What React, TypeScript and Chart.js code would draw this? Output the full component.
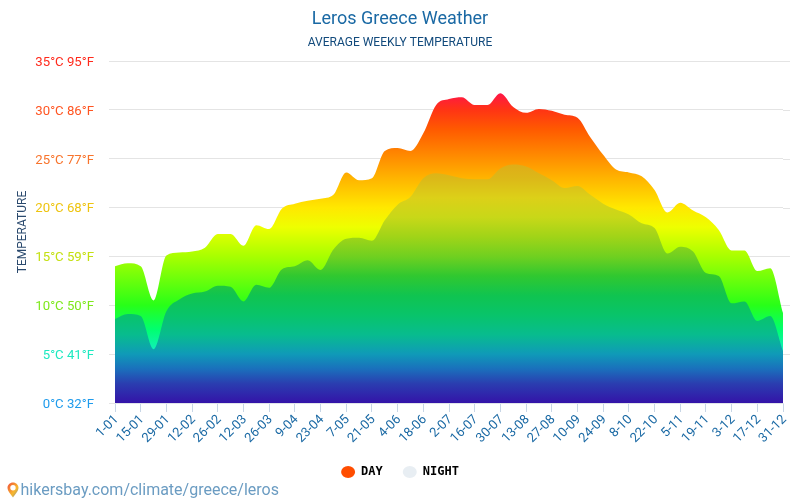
import React, { useEffect, useRef } from "react";
import { Chart, registerables } from "chart.js";

Chart.register(...registerables);

const weeks = [
  "1-01","8-01","15-01","22-01","29-01","5-02","12-02","19-02","26-02","5-03","12-03","19-03","26-03",
  "2-04","9-04","16-04","23-04","30-04","7-05","14-05","21-05","28-05","4-06","11-06","18-06","25-06",
  "2-07","9-07","16-07","23-07","30-07","6-08","13-08","20-08","27-08","3-09","10-09","17-09","24-09",
  "1-10","8-10","15-10","22-10","29-10","5-11","12-11","19-11","26-11","3-12","10-12","17-12","24-12","31-12",
];
const dayTemps = [
  14.0,14.3,14.0,10.5,15.1,15.4,15.5,15.9,17.3,17.3,16.1,18.2,17.8,
  19.9,20.4,20.7,20.9,21.3,23.6,22.8,23.0,25.8,26.1,25.8,27.6,30.5,
  31.1,31.3,30.5,30.5,31.7,30.3,29.7,30.1,29.9,29.5,29.2,27.2,25.4,
  23.9,23.6,23.2,21.8,19.5,20.5,19.7,19.0,17.7,15.6,15.6,13.5,13.8,9.2,
];
const nightTemps = [
  8.6,9.1,8.9,5.5,9.4,10.6,11.2,11.4,12.0,11.9,10.4,12.1,11.8,
  13.7,14.0,14.6,13.6,15.7,16.8,16.9,16.6,18.7,20.3,21.1,23.0,23.5,
  23.3,23.0,22.9,22.9,24.0,24.4,24.2,23.5,22.8,22.0,22.2,21.3,20.4,
  19.8,19.3,18.4,17.9,15.3,16.0,15.5,13.3,13.0,10.2,10.4,8.4,8.9,5.3,
];
const yTickLabels: Record<number, string> = {
  0: "0°C 32°F", 5: "5°C 41°F", 10: "10°C 50°F", 15: "15°C 59°F",
  20: "20°C 68°F", 25: "25°C 77°F", 30: "30°C 86°F", 35: "35°C 95°F",
};
const yTickColors: Record<number, string> = {
  0: "#1e9bec", 5: "#1de9c0", 10: "#7ee81c", 15: "#c4e012",
  20: "#eec410", 25: "#f8742c", 30: "#ff5522", 35: "#ff2a1c",
};
const dayStops: [number, string][] = [
  [0, "#3413a8"], [2, "#2a40b0"], [4, "#1a9cc4"], [5.5, "#10f0b8"], [7.5, "#00ff70"], [10, "#28ff18"],
  [15, "#a8ff00"], [18, "#eeff00"], [20, "#ffe800"], [23, "#ffb400"], [25, "#ff9000"],
  [28, "#ff5a00"], [30, "#ff3414"], [32, "#ff1050"],
];
const nightStops: [number, string][] = [
  [0, "#3413a8"], [2, "#2a3eb0"], [3.5, "#1a70bc"], [5, "#0f9ab8"], [7, "#08bc8e"], [9, "#08c46a"],
  [11, "#10c450"], [13, "#30c830"], [15, "#70d020"], [17, "#a0d418"], [19, "#c8d818"],
  [21, "#dcd018"], [23, "#dcb818"], [25, "#e0a818"],
];
const dayLegendColor = "#ff4d00";
const nightLegendColor = "#e8eef3";

function gradient(chart: any, stops: [number, string][]) {
  const { ctx, scales, chartArea } = chart;
  if (!chartArea) return "#000";
  const y = scales.y;
  const g = ctx.createLinearGradient(0, y.getPixelForValue(0), 0, y.getPixelForValue(35));
  stops.forEach(([v, c]) => g.addColorStop(v / 35, c));
  return g;
}

const gridExtend = {
  id: "gridExtend",
  beforeDatasetsDraw(chart: any) {
    const { ctx, scales, chartArea } = chart;
    ctx.save();
    ctx.strokeStyle = "#e4e4e4";
    ctx.lineWidth = 1;
    scales.y.ticks.forEach((t: any) => {
      if (t.value === 0) return;
      const p = Math.round(scales.y.getPixelForValue(t.value)) + 0.5;
      ctx.beginPath();
      ctx.moveTo(chartArea.right, p);
      ctx.lineTo(chartArea.right + 7, p);
      ctx.stroke();
    });
    ctx.restore();
  },
};

export default function App() {
  const ref = useRef<HTMLCanvasElement>(null);
  useEffect(() => {
    document.body.style.margin = "0";
    const chart = new Chart(ref.current!, {
      type: "line",
      plugins: [gridExtend],
      data: {
        labels: weeks,
        datasets: [
          {
            label: "DAY", data: dayTemps, order: 2, fill: "origin", borderWidth: 0, pointRadius: 0,
            cubicInterpolationMode: "monotone",
            backgroundColor: (c: any) => gradient(c.chart, dayStops),
          },
          {
            label: "NIGHT", data: nightTemps, order: 1, fill: "origin", borderWidth: 0, pointRadius: 0,
            cubicInterpolationMode: "monotone",
            backgroundColor: (c: any) => gradient(c.chart, nightStops),
          },
        ],
      },
      options: {
        responsive: false,
        animation: false,
        layout: { padding: { left: 0, right: 0, top: 0, bottom: 12 } },
        plugins: {
          title: {
            display: true, text: "Leros Greece Weather", color: "#1a69a4",
            font: { family: "Roboto", size: 18, weight: "normal" }, padding: { top: 9, bottom: 0 },
          },
          subtitle: {
            display: true, text: "AVERAGE WEEKLY TEMPERATURE", color: "#124a7c",
            font: { family: "Roboto", size: 12, weight: "normal" }, padding: { top: 5, bottom: 11 },
          },
          tooltip: { enabled: false },
          legend: {
            position: "bottom",
            labels: {
              usePointStyle: true, boxHeight: 8.5, pointStyleWidth: 14, padding: 20,
              color: "#3a3f52",
              font: { family: "DejaVu Sans Mono", size: 12, weight: "bold" },
              generateLabels: () => [
                { text: "DAY", fillStyle: dayLegendColor, strokeStyle: dayLegendColor, lineWidth: 0, pointStyle: "circle", datasetIndex: 0 },
                { text: "NIGHT", fillStyle: nightLegendColor, strokeStyle: nightLegendColor, lineWidth: 0, pointStyle: "circle", datasetIndex: 1 },
              ],
            },
          },
        },
        scales: {
          x: {
            type: "category",
            afterFit: (s: any) => { s.height = 43; },
            afterBuildTicks: (s: any) => { s.ticks = s.ticks.filter((_: any, i: number) => i % 2 === 0); },
            grid: { drawOnChartArea: false, drawTicks: true, tickLength: 9, tickColor: "#c8d6e6", color: "#c8d6e6" },
            border: { color: "#e0e4ea" },
            ticks: {
              autoSkip: false, minRotation: 45, maxRotation: 45, padding: 0, labelOffset: 1.5,
              color: "#1a69a4", font: { family: "Roboto", size: 13 },
            },
          },
          y: {
            min: 0, max: 35,
            afterFit: (s: any) => { s.width = 115; },
            title: {
              display: true, text: "TEMPERATURE", color: "#2b4a6e",
              font: { family: "Roboto", size: 12 }, padding: { top: 15.5, bottom: 0 },
            },
            grid: { color: "#e4e4e4", tickColor: "#e4e4e4", tickLength: 6 },
            border: { display: false },
            ticks: {
              stepSize: 5, padding: 15, labelOffset: 1.5,
              font: { family: "Roboto", size: 13.2 },
              color: (c: any) => yTickColors[c.tick.value],
              callback: (v: any) => yTickLabels[v],
            },
          },
          yRightGutter: {
            position: "right",
            afterFit: (s: any) => { s.width = 17; },
            grid: { display: false },
            border: { display: false },
            ticks: { display: false },
          },
        },
      },
    } as any);
    return () => chart.destroy();
  }, []);
  return (
    <div style={{ position: "relative", width: 800, height: 500, overflow: "hidden", background: "#fff" }}>
      <canvas ref={ref} width={800} height={500} style={{ display: "block" }} />
      <svg width="12" height="16" viewBox="0 0 12 16" style={{ position: "absolute", left: 6.5, top: 481.5 }}>
        <defs>
          <linearGradient id="pinG" x1="0" y1="0" x2="1" y2="1">
            <stop offset="0" stopColor="#f04c3c" />
            <stop offset="0.6" stopColor="#f8b82c" />
            <stop offset="1" stopColor="#7a8a9a" />
          </linearGradient>
        </defs>
        <path d="M6 0.5C2.8 0.5 0.5 3 0.5 5.8C0.5 9.4 4.5 13 6 15.5C7.5 13 11.5 9.4 11.5 5.8C11.5 3 9.2 0.5 6 0.5Z" fill="url(#pinG)" />
        <circle cx="6" cy="5.8" r="2.7" fill="#fff" />
      </svg>
      <div style={{ position: "absolute", left: 20.5, top: 480, fontFamily: "Roboto", fontSize: 16, lineHeight: "19px", color: "#6b9cc2", whiteSpace: "nowrap" }}>
        hikersbay.com/climate/greece/leros
      </div>
    </div>
  );
}
